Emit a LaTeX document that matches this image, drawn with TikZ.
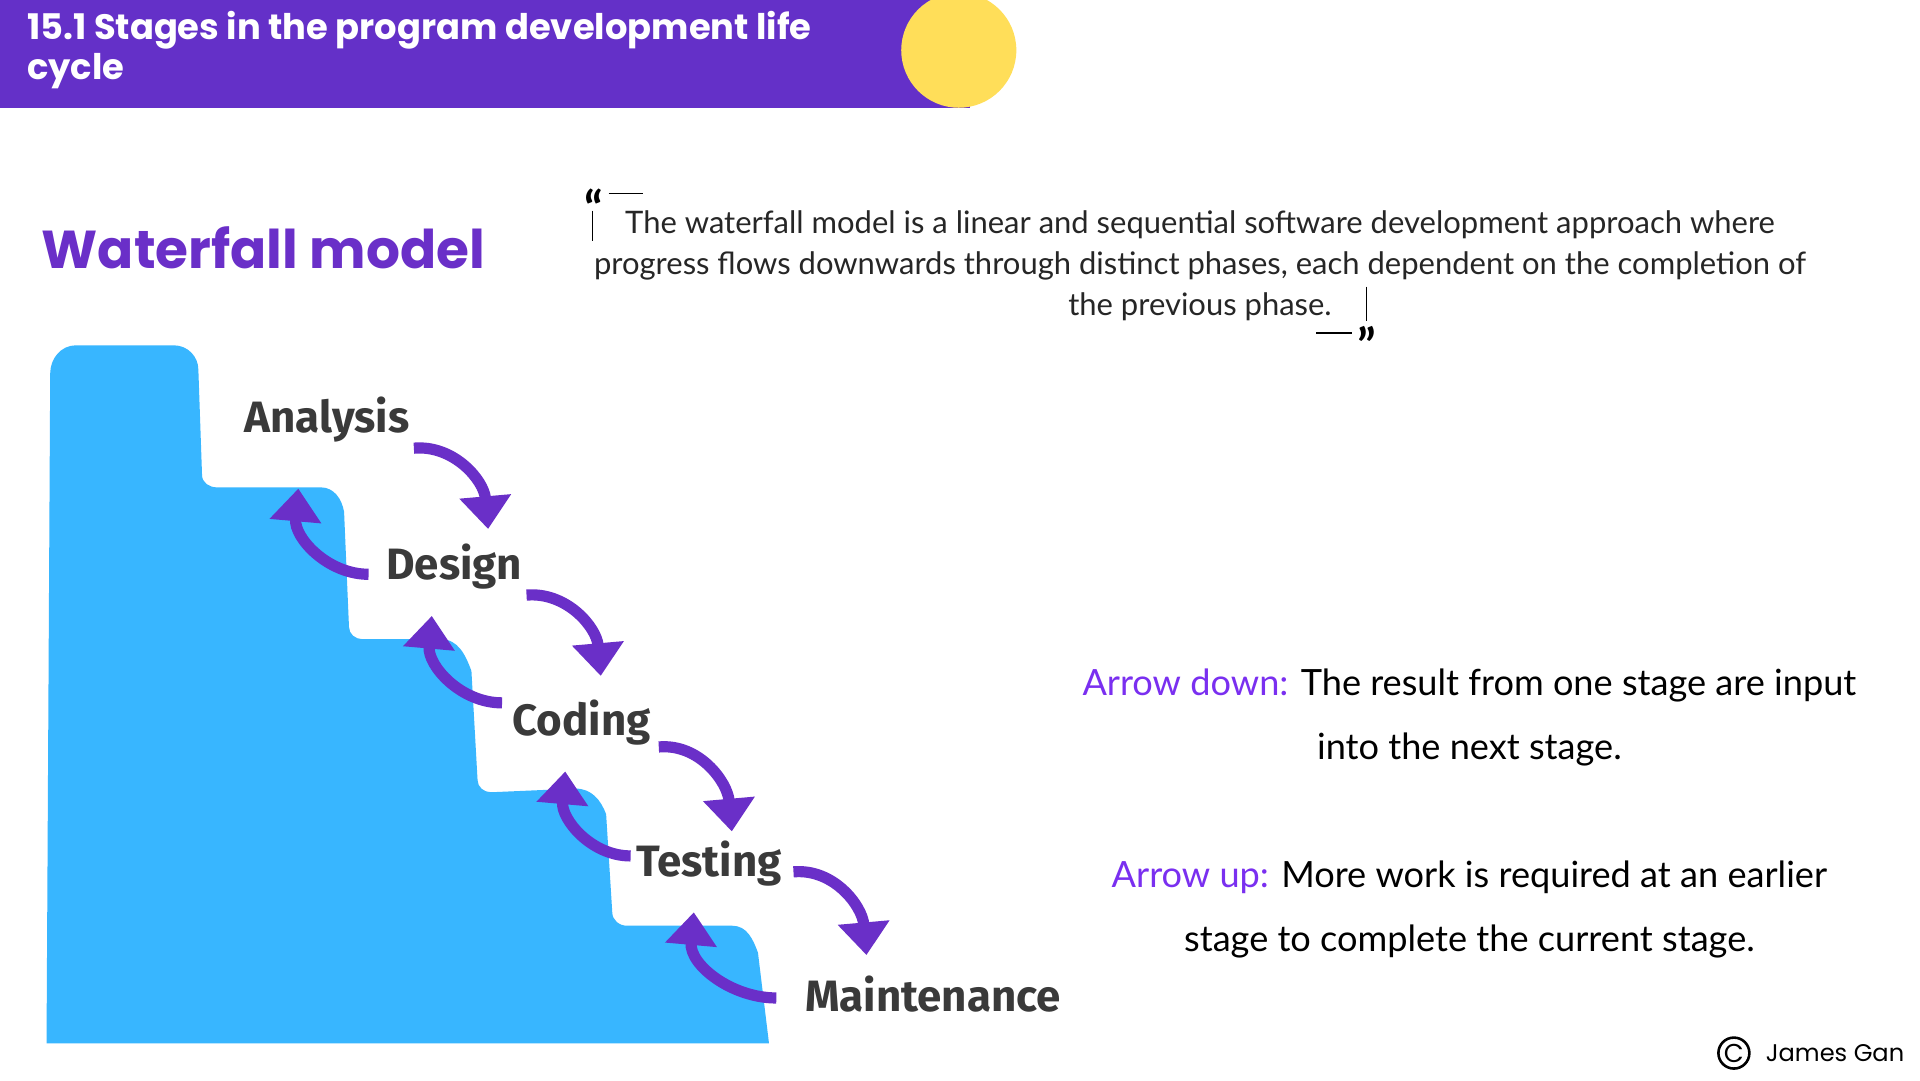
\documentclass[tikz,border=0pt]{standalone}
\usepackage{fontspec}
\setmainfont{Lato}
\newfontfamily\pop{Poppins}
\newfontfamily\fira{Fira Sans}
\usetikzlibrary{arrows.meta}
\definecolor{hdr}{HTML}{6430C8}
\definecolor{sun}{HTML}{FFDE59}
\definecolor{water}{HTML}{38B6FF}
\definecolor{arr}{HTML}{6A2FC8}
\definecolor{lbl}{HTML}{7A2FF0}
\definecolor{stg}{HTML}{3A3A3A}
\tikzset{
  stage/.style={font=\fira\bfseries\fontsize{51pt}{60pt}\selectfont, text=stg, inner sep=0pt},
  dn/.style={draw=arr, line width=13pt, -{Triangle[length=38pt,width=58pt]}, shorten >=-10pt},
  up/.style={draw=arr, line width=13pt, -{Triangle[length=38pt,width=58pt]}, shorten >=-10pt},
  rtext/.style={font=\fontsize{42pt}{74pt}\selectfont, align=center, inner sep=0pt},
  qm/.style={font=\fontsize{56pt}{56pt}\selectfont\bfseries, inner sep=0pt},
}
\begin{document}
\begin{tikzpicture}[x=0.05cm,y=-0.05cm]
\useasboundingbox[fill=white] (0,0) rectangle (1568,882);
% header
\fill[hdr] (0,0) rectangle (792,88);
\fill[sun] (783,41) circle (47);
\node[anchor=west, text=white, font=\pop\bfseries\fontsize{41pt}{47pt}\selectfont, align=left, inner sep=0pt] (title) at (22,41) {15.1 Stages in the program development life\\cycle};
\node[anchor=west, text=arr, font=\pop\bfseries\fontsize{62pt}{70pt}\selectfont, inner sep=0pt] (wf) at (34,202) {Waterfall model};
% quote
\node[font=\fontsize{36pt}{48pt}\selectfont, align=center, inner sep=0pt, text=black!85] (quote) at (980,217) {The waterfall model is a linear and sequential software development approach where\\progress flows downwards through distinct phases, each dependent on the completion of\\the previous phase.};
\node[qm] (q1) at (485,170) {``};
\node[qm] (q2) at (1116,282) {''};
\coordinate (a1) at (497,158); \coordinate (a2) at (525,158);
\coordinate (b1) at (484,172); \coordinate (b2) at (484,197);
\coordinate (c1) at (1116,234); \coordinate (c2) at (1116,262);
\coordinate (d1) at (1075,272); \coordinate (d2) at (1104,272);
\draw[line width=1.8pt] (a1)--(a2) (b1)--(b2) (c1)--(c2) (d1)--(d2);
% waterfall
\fill[water] (38,852) -- (41,305) to[out=90,in=180] (62,282) -- (142,282) to[out=0,in=90] (162,302)
 -- (165,388) to[out=-90,in=180] (177,398) -- (262,398) to[out=0,in=100] (281,418)
 -- (285,512) to[out=-90,in=180] (296,522) -- (360,522) to[out=0,in=110] (385,548)
 -- (390,637) to[out=-90,in=180] (401,647) -- (470,644) to[out=0,in=110] (495,665)
 -- (500,745) to[out=-90,in=180] (512,756) -- (598,756) to[out=0,in=110] (619,778)
 -- (628,852) -- cycle;
% stages
\node[stage] (an) at (267,343) {Analysis};
\node[stage] (de) at (371,463) {Design};
\node[stage] (co) at (475,590) {Coding};
\node[stage] (te) at (579,705) {Testing};
\node[stage] (ma) at (762,812) {Maintenance};
% down arrows
\coordinate (s1) at (338,366); \coordinate (e1) at (398,425);
\coordinate (s2) at (430,486); \coordinate (e2) at (490,545);
\coordinate (s3) at (538,610); \coordinate (e3) at (597,672);
\coordinate (s4) at (648,712); \coordinate (e4) at (707,773);
\foreach \s/\e in {s1/e1,s2/e2,s3/e3,s4/e4}
  \draw[dn] (\s) to[out=5,in=95] (\e);
% up arrows
\coordinate (u1) at (301,469); \coordinate (v1) at (243,406);
\coordinate (u2) at (410,574); \coordinate (v2) at (352,510);
\coordinate (u3) at (515,699); \coordinate (v3) at (461,637);
\coordinate (u4) at (634,815); \coordinate (v4) at (566,752);
\foreach \s/\e in {u1/v1,u2/v2,u3/v3,u4/v4}
  \draw[up] (\s) to[out=180,in=-95] (\e);
% right text
\node[rtext] (t1) at (1200,586) {{\color{lbl}Arrow down:} The result from one stage are input\\into the next stage.};
\node[rtext] (t2) at (1200,743) {{\color{lbl}Arrow up:} More work is required at an earlier\\stage to complete the current stage.};
% copyright
\node[draw, circle, line width=3pt, minimum size=36, inner sep=0pt, font=\pop\fontsize{30pt}{30pt}\selectfont] (cc) at (1416,860) {C};
\node[anchor=west, font=\pop\fontsize{28pt}{30pt}\selectfont, inner sep=0pt] (jg) at (1442,860) {James Gan};
\end{tikzpicture}
\end{document}
